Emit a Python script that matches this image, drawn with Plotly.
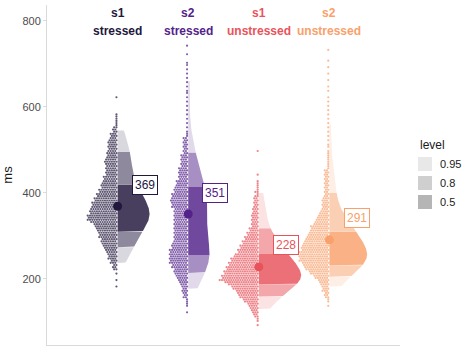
import numpy as np
import plotly.graph_objects as go

# ---------------- data ----------------
subjects = ["s1", "s2", "s1", "s2"]
conditions = ["stressed", "stressed", "unstressed", "unstressed"]
colors = ["#22183D", "#53238A", "#E8535B", "#F8A16C"]
means = [369, 351, 228, 291]

bin_width = 5
bin_start = [180, 120, 90, 135]
counts_s1_stressed = [
    1, 0, 0, 1, 0, 0, 1, 0, 2, 2,
    2, 3, 3, 4, 4, 4, 5, 5, 6, 6,
    7, 7, 7, 8, 8, 8, 9, 9, 10, 10,
    12, 13, 13, 13, 12, 12, 12, 11, 11, 11,
    10, 10, 9, 9, 8, 8, 7, 7, 7, 6,
    6, 6, 5, 5, 5, 5, 5, 5, 6, 5,
    5, 4, 5, 4, 4, 4, 4, 4, 4, 3,
    3, 3, 2, 2, 2, 1, 1, 1, 1, 1,
    1, 0, 0, 0, 0, 0, 0, 0, 1]
counts_s2_stressed = [
    1, 0, 0, 1, 1, 1, 1, 2, 2, 2,
    3, 2, 3, 3, 4, 4, 5, 5, 6, 6,
    6, 7, 7, 8, 8, 8, 8, 8, 8, 8,
    7, 7, 7, 6, 6, 6, 6, 6, 6, 6,
    6, 6, 6, 6, 6, 6, 6, 6, 6, 7,
    7, 7, 8, 7, 7, 7, 6, 6, 6, 5,
    5, 5, 4, 4, 4, 4, 4, 4, 3, 3,
    3, 3, 3, 3, 2, 2, 2, 2, 2, 2,
    2, 2, 1, 1, 1, 0, 1, 0, 1, 0,
    1, 0, 1, 0, 1, 0, 1, 0, 1, 0,
    1, 0, 1, 1, 0, 1, 0, 1, 0, 1,
    0, 1, 0, 1, 0, 1, 1, 0, 0, 0,
    1, 0, 0, 0, 1, 0, 0, 0, 1]
counts_s1_unstressed = [
    1, 0, 1, 1, 2, 2, 3, 3, 4, 4,
    5, 6, 7, 8, 9, 9, 10, 11, 12, 13,
    15, 17, 16, 16, 15, 15, 14, 14, 13, 13,
    12, 12, 11, 10, 9, 9, 8, 8, 7, 7,
    6, 6, 5, 5, 4, 4, 3, 3, 3, 3,
    3, 3, 3, 2, 3, 2, 2, 2, 2, 2,
    2, 1, 2, 1, 1, 1, 1, 1, 0, 0,
    1, 0, 0, 0, 0, 0, 0, 0, 0, 0,
    0, 1]
counts_s2_unstressed = [
    1, 0, 1, 1, 2, 2, 2, 3, 3, 3,
    4, 4, 5, 6, 7, 8, 9, 10, 11, 11,
    12, 13, 13, 13, 13, 13, 12, 12, 12, 11,
    11, 10, 10, 9, 9, 8, 8, 8, 7, 6,
    6, 5, 5, 4, 4, 3, 3, 3, 3, 3,
    3, 2, 2, 2, 2, 2, 2, 2, 2, 2,
    2, 2, 2, 2, 1, 1, 1, 1, 1, 1,
    1, 1, 1, 0, 1, 1, 0, 1, 0, 1,
    0, 1, 0, 1, 0, 1, 0, 1, 0, 1,
    0, 1, 0, 1, 0, 1, 0, 1, 0, 0,
    1, 0, 1, 0, 0, 1, 0, 0, 1, 0,
    0, 1, 0, 0, 1, 0, 0, 0, 0, 1]
all_counts = [counts_s1_stressed, counts_s2_stressed,
              counts_s1_unstressed, counts_s2_unstressed]

# interval bounds
q95_lo = [237, 177, 130, 182]
q95_hi = [545, 660, 400, 560]
q80_lo = [274, 214, 159, 205]
q80_hi = [496, 494, 318, 400]
q50_lo = [310, 256, 188, 232]
q50_hi = [419, 414, 258, 310]

level_names = ["0.95", "0.8", "0.5"]
level_grey = ["#E8E8E8", "#CFCFCF", "#B5B5B5"]

y_ticks = [200, 400, 600, 800]

# ---------------- layout constants ----------------
FONT = "Liberation Sans, Arial, Helvetica, sans-serif"
W, H = 474, 355
ML, MR, MT, MB = 47, 74, 5, 10
XR = [0, 5]
YR = [46.5, 837]
px_per_x = (W - ML - MR) / (XR[1] - XR[0])
dx = 2.3 / px_per_x          # horizontal dot spacing (axis units)
dot_size = 2.2
slab_scale = 0.6             # max slab width in x units
x_pos = [1, 2, 3, 4]


def mix(hexc, f):
    """mix colour with white; f = weight of colour"""
    r, g, b = int(hexc[1:3], 16), int(hexc[3:5], 16), int(hexc[5:7], 16)
    r = round(255 - f * (255 - r))
    g = round(255 - f * (255 - g))
    b = round(255 - f * (255 - b))
    return f"rgb({r},{g},{b})"


def kde(centers, weights, grid):
    centers = np.asarray(centers, float)
    w = np.asarray(weights, float)
    n = w.sum()
    m = (centers * w).sum() / n
    sd = np.sqrt((w * (centers - m) ** 2).sum() / n)
    cw = np.cumsum(w) / n
    q1 = centers[np.searchsorted(cw, 0.25)]
    q3 = centers[np.searchsorted(cw, 0.75)]
    bw = 0.9 * min(sd, (q3 - q1) / 1.34) * n ** -0.2
    z = (grid[:, None] - centers[None, :]) / bw
    return (w[None, :] * np.exp(-0.5 * z ** 2)).sum(1) / (n * bw * np.sqrt(2 * np.pi))


fig = go.Figure()

# densities, common normalisation
dens_funcs = []
global_max = 0
for gi in range(4):
    c = np.array(all_counts[gi])
    centers = bin_start[gi] + bin_width * (np.arange(len(c)) + 0.5)
    grid = np.linspace(q95_lo[gi], q95_hi[gi], 400)
    d = kde(centers, c, grid)
    global_max = max(global_max, d.max())
    dens_funcs.append((centers, c))

for gi in range(4):
    col = colors[gi]
    xs0 = x_pos[gi]
    centers, c = dens_funcs[gi]
    regions = [
        (q95_lo[gi], q80_lo[gi], 0.17),
        (q80_lo[gi], q50_lo[gi], 0.51),
        (q50_lo[gi], q50_hi[gi], 0.83),
        (q50_hi[gi], q80_hi[gi], 0.51),
        (q80_hi[gi], q95_hi[gi], 0.17),
    ]
    for a, b, f in regions:
        ys = np.linspace(a, b, 80)
        xs = xs0 + slab_scale * kde(centers, c, ys) / global_max
        px = np.concatenate([[xs0], xs, [xs0]])
        py = np.concatenate([[a], ys, [b]])
        fig.add_trace(go.Scatter(x=px, y=py, mode="lines", fill="toself",
                                 fillcolor=mix(col, f), line=dict(width=0),
                                 hoverinfo="skip", showlegend=False))

    # dots (binned dotplot to the left of the spine, hex-offset rows)
    dxs, dys = [], []
    for k, n in enumerate(c):
        yc = bin_start[gi] + bin_width * (k + 0.5)
        off = 0.5 if (k % 2 and n > 1) else 0.0
        for i in range(int(n)):
            dxs.append(xs0 - dx * (i + 0.5 + off))
            dys.append(yc)
    fig.add_trace(go.Scatter(x=dxs, y=dys, mode="markers",
                             marker=dict(size=dot_size, color=col, opacity=0.72,
                                         line=dict(width=0)),
                             hoverinfo="skip", showlegend=False))

    # mean point
    fig.add_trace(go.Scatter(x=[xs0], y=[means[gi]], mode="markers",
                             marker=dict(size=9, color=col, line=dict(width=0)),
                             showlegend=False))
    # label
    fig.add_annotation(x=xs0 + 0.2, y=means[gi] + 50, text=str(means[gi]),
                       xanchor="left", yanchor="middle", showarrow=False,
                       font=dict(family=FONT, size=12, color=col),
                       bgcolor="white", bordercolor=col, borderwidth=1, borderpad=2)
    # header
    fig.add_annotation(x=xs0, y=818, text=f"<b>{subjects[gi]}</b>", showarrow=False,
                       font=dict(family=FONT, size=12, color=col))
    fig.add_annotation(x=xs0, y=777, text=f"<b>{conditions[gi]}</b>", showarrow=False,
                       font=dict(family=FONT, size=12, color=col))

# legend (drawn manually)
pw, ph = W - ML - MR, H - MT - MB
def xp(px):
    return (px - ML) / pw
def yp(py):
    return (H - MB - py) / ph

fig.add_annotation(x=xp(418), y=yp(145), xref="paper", yref="paper", text="level",
                   showarrow=False, xanchor="left", yanchor="middle",
                   font=dict(family=FONT, size=12, color="#1A1A1A"))
for li, (name, g) in enumerate(zip(level_names, level_grey)):
    cy = 164 + 19 * li
    fig.add_shape(type="rect", xref="paper", yref="paper",
                  x0=xp(418), x1=xp(432), y0=yp(cy + 7), y1=yp(cy - 7),
                  fillcolor=g, line=dict(width=0))
    fig.add_annotation(x=xp(438), y=yp(cy), xref="paper", yref="paper", text=name,
                       showarrow=False, xanchor="left", yanchor="middle",
                       font=dict(family=FONT, size=11, color="#1A1A1A"))

fig.update_layout(
    width=W, height=H, margin=dict(l=ML, r=MR, t=MT, b=MB),
    paper_bgcolor="white", plot_bgcolor="white", showlegend=False,
    font=dict(family=FONT),
    xaxis=dict(range=XR, showgrid=False, zeroline=False, showticklabels=False,
               ticks="", showline=True, linecolor="#DADADA", linewidth=1),
    yaxis=dict(range=YR, showgrid=False, zeroline=False, tickvals=y_ticks,
               ticks="outside", ticklen=3, tickcolor="#DADADA",
               tickfont=dict(family=FONT, size=11, color="#4D4D4D"),
               showline=True, linecolor="#DADADA", linewidth=1,
               title=dict(text="ms", font=dict(family=FONT, size=13, color="#1A1A1A"),
                          standoff=6)),
)

fig.write_html("out.html",
               config={"displayModeBar": False},
               post_script="document.body.style.margin='0';"
                           "document.body.style.overflow='hidden';")
